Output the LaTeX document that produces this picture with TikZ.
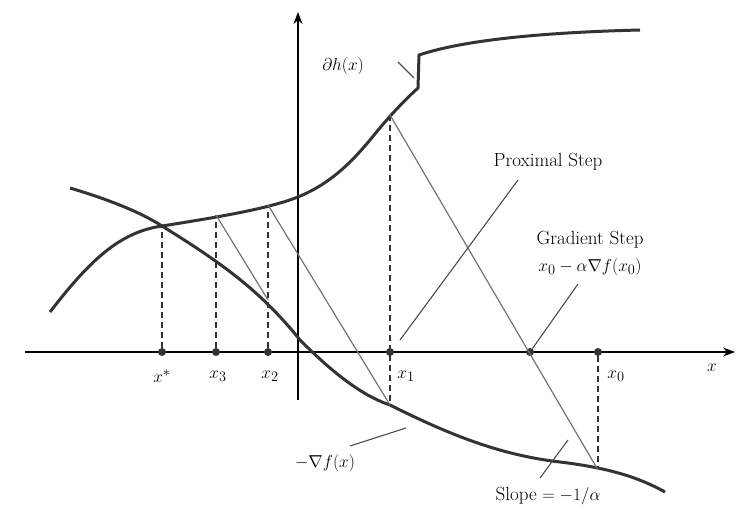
\documentclass[tikz,border=0pt]{standalone}
\usetikzlibrary{arrows.meta}
\begin{document}
\begin{tikzpicture}[x=1pt,y=-1pt,
  curve/.style={line width=3pt,color=black!80},
  thinline/.style={line width=1.2pt,color=black!55},
  dashline/.style={dash pattern=on 6pt off 4pt,line width=1.5pt,color=black!80},
  lead/.style={line width=1.1pt,color=black!70},
  dot/.style={circle,fill=black!80,inner sep=0pt,minimum size=8pt},
  lbl/.style={font=\fontsize{19}{23}\selectfont}]
\useasboundingbox (0,0) rectangle (749,529);
\draw[line width=1.5pt,-{Stealth[length=12pt]}] (25,352) -- (735,352);
\draw[line width=1.5pt,-{Stealth[length=12pt]}] (298,400) -- (298,12);
\node[lbl] (xl) at (712,368) {$x$};
% curves
\draw[curve] (50,312) .. controls (90,260) and (120,232) .. (162,226)
  .. controls (200,220) and (250,212) .. (280,203)
  .. controls (320,192) and (345,170) .. (370,140)
  .. controls (390,115) and (405,100) .. (418,88) -- (419,55)
  .. controls (470,38) and (560,32) .. (640,30);
\draw[curve] (70,188) .. controls (110,200) and (140,212) .. (162,226)
  .. controls (220,262) and (260,290) .. (300,340)
  .. controls (330,370) and (360,395) .. (390,405)
  .. controls (450,435) and (500,455) .. (560,462)
  .. controls (610,468) and (640,478) .. (665,492);
% coordinates
\coordinate (hs) at (162,226); \coordinate (h3) at (216,215);
\coordinate (h2) at (268,205); \coordinate (h1) at (390,115);
\coordinate (f2) at (268,300); \coordinate (f1) at (390,405);
\coordinate (f0) at (598,470);
\node[dot] (ps) at (162,352) {}; \node[dot] (p3) at (216,352) {};
\node[dot] (p2) at (268,352) {}; \node[dot] (p1) at (390,352) {};
\node[dot] (p0) at (598,352) {}; \node[dot] (pg) at (530,352) {};
\draw[dashline] (ps) -- (hs); \draw[dashline] (p3) -- (h3); \draw[dashline] (p2) -- (h2);
\draw[dashline] (h1) -- (f1); \draw[dashline] (p0) -- (f0);
\draw[thinline] (h3) -- (f2); \draw[thinline] (h2) -- (f1); \draw[thinline] (h1) -- (f0);
% labels
\node[lbl] (ls) at (162,376) {$x^*$};
\node[lbl] (l3) at (218,376) {$x_3$};
\node[lbl] (l2) at (270,376) {$x_2$};
\node[lbl] (l1) at (406,376) {$x_1$};
\node[lbl] (l0) at (616,376) {$x_0$};
\node[lbl] (dh) at (343,66) {$\partial h(x)$};
\draw[lead] (398,62) -- (414,78);
\node[lbl] (pst) at (548,162) {Proximal Step};
\draw[lead] (518,180) -- (400,340);
\node[lbl] (gs) at (590,240) {Gradient Step};
\node[lbl] (gx) at (590,267) {$x_0-\alpha\nabla f(x_0)$};
\draw[lead] (578,284) -- (pg);
\node[lbl] (nf) at (325,463) {$-\nabla f(x)$};
\draw[lead] (350,446) -- (406,428);
\node[lbl] (sl) at (548,496) {Slope $=-1/\alpha$};
\draw[lead] (540,478) -- (568,440);
\end{tikzpicture}
\end{document}
